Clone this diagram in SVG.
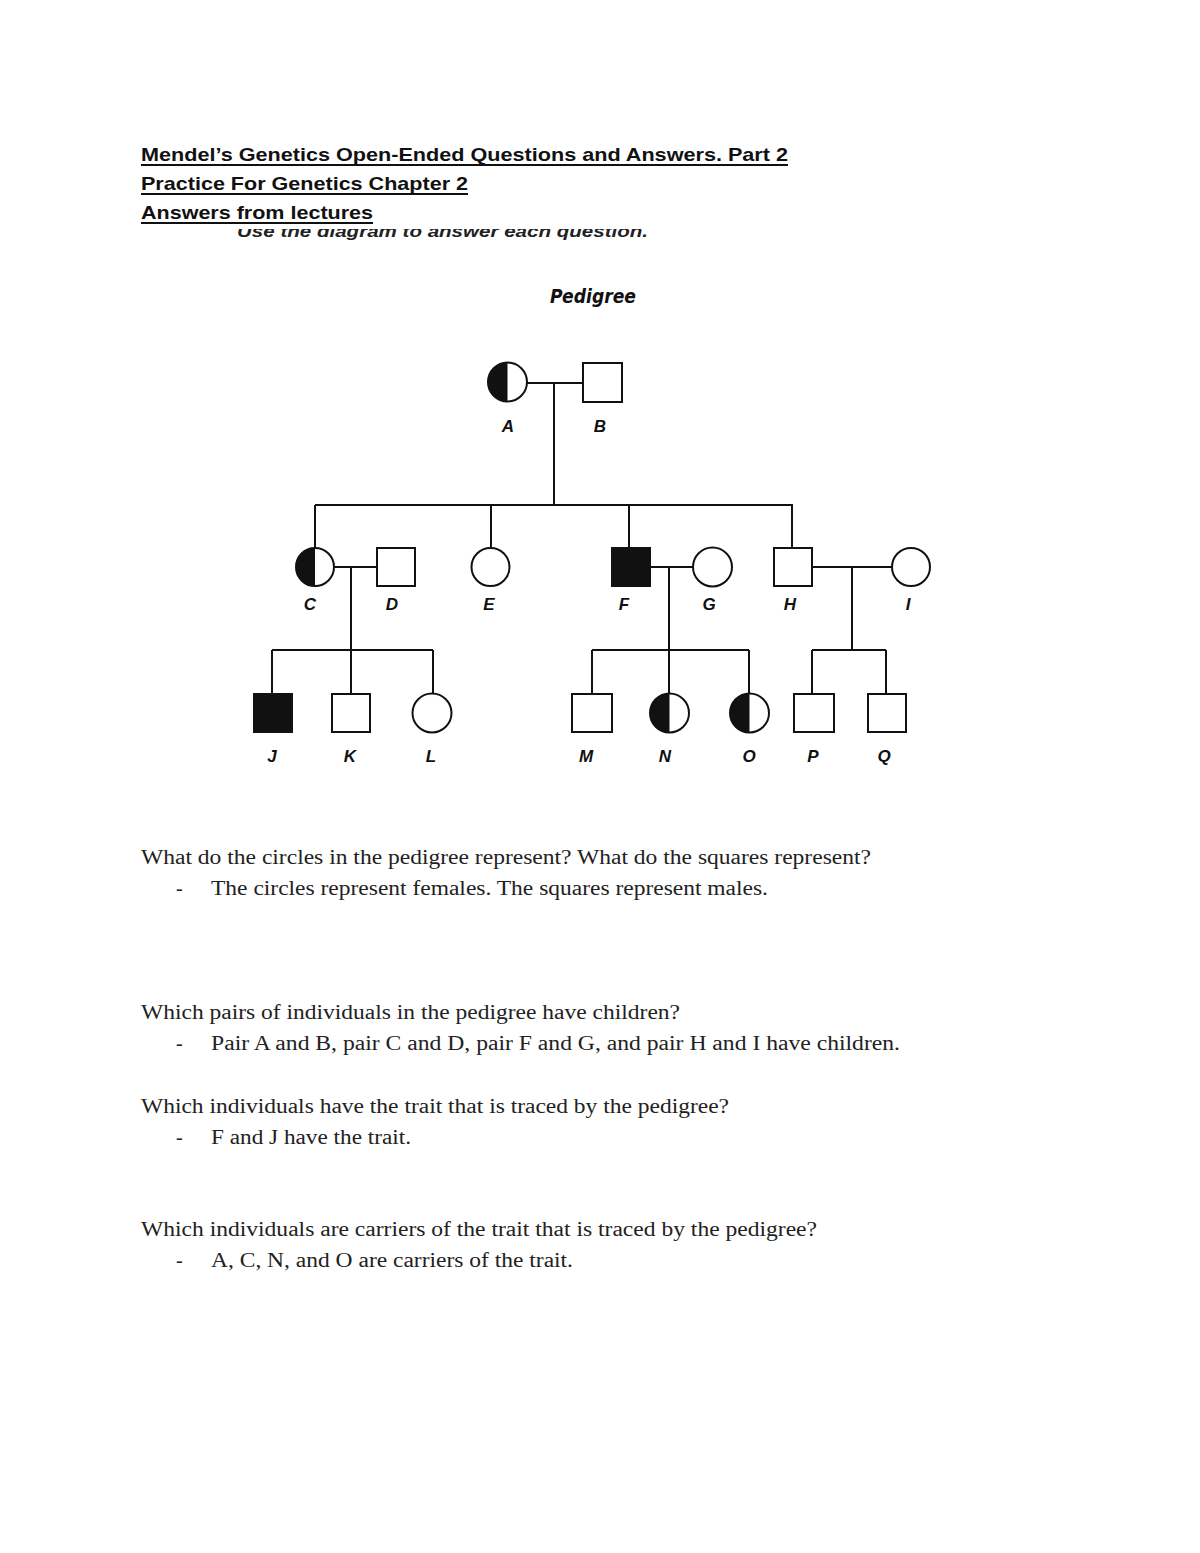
<svg xmlns="http://www.w3.org/2000/svg" width="1200" height="1553" viewBox="0 0 1200 1553">
<style>
.h{font-family:"Liberation Sans",Arial,sans-serif;font-weight:bold;font-size:19px;fill:#111}
.b{font-family:"Liberation Serif","Times New Roman",serif;font-size:20px;fill:#222}
.lb{font-family:"Liberation Sans",Arial,sans-serif;font-style:italic;font-weight:bold;font-size:17px;fill:#111;text-anchor:middle}
.ln{stroke:#111;stroke-width:2;fill:none}
.sh{stroke:#111;stroke-width:2;fill:#fff}
.f{fill:#111}
</style>
<defs>
<clipPath id="cut"><rect x="200" y="229" width="500" height="20"/></clipPath>
</defs>
<rect width="1200" height="1553" fill="#fff"/>
<g id="header">
<text class="h" x="141" y="161" textLength="647" lengthAdjust="spacingAndGlyphs">Mendel’s Genetics Open-Ended Questions and Answers. Part 2</text>
<line x1="141" y1="165" x2="788" y2="165" stroke="#111" stroke-width="2"/>
<text class="h" x="141" y="190" textLength="327" lengthAdjust="spacingAndGlyphs">Practice For Genetics Chapter 2</text>
<line x1="141" y1="194" x2="468" y2="194" stroke="#111" stroke-width="2"/>
<text class="h" x="141" y="219" textLength="232" lengthAdjust="spacingAndGlyphs">Answers from lectures</text>
<line x1="141" y1="223" x2="373" y2="223" stroke="#111" stroke-width="2"/>
<text clip-path="url(#cut)" x="237" y="237" textLength="411" lengthAdjust="spacingAndGlyphs" style="font-family:'Liberation Sans',Arial,sans-serif;font-style:italic;font-weight:bold;font-size:17px;fill:#222">Use the diagram to answer each question.</text>
<text x="550" y="303" textLength="86" lengthAdjust="spacingAndGlyphs" style="font-family:'DejaVu Sans',sans-serif;font-style:italic;font-weight:bold;font-size:19px;fill:#111">Pedigree</text>
</g>
<g id="connectors">
<path class="ln" d="M527 383H583M554 383V505M315 505H793M315 505V548M491 505V548M629 505V548M792 505V548"/>
<path class="ln" d="M334 567H377M351 567V650M272 650H433M272 650V694M351 650V694M433 650V694"/>
<path class="ln" d="M650 567H693M669 567V650M592 650H749M592 650V694M669 650V694M749 650V694"/>
<path class="ln" d="M812 567H892M852 567V650M812 650H886M812 650V694M886 650V694"/>
</g>
<g id="node-A"><circle class="sh" cx="507.5" cy="382" r="19.5"/><path class="f" d="M507.5 362.5A19.5 19.5 0 0 0 507.5 401.5Z"/><text class="lb" x="508" y="432">A</text></g>
<g id="node-B"><rect class="sh" x="583" y="363" width="39" height="39"/><text class="lb" x="600" y="432">B</text></g>
<g id="node-C"><circle class="sh" cx="315" cy="567" r="19"/><path class="f" d="M315 548A19 19 0 0 0 315 586Z"/><text class="lb" x="310" y="610">C</text></g>
<g id="node-D"><rect class="sh" x="377" y="548" width="38" height="38"/><text class="lb" x="392" y="610">D</text></g>
<g id="node-E"><circle class="sh" cx="490.5" cy="567" r="19"/><text class="lb" x="489" y="610">E</text></g>
<g id="node-F"><rect class="sh" x="612" y="548" width="38" height="38" style="fill:#111"/><text class="lb" x="624" y="610">F</text></g>
<g id="node-G"><circle class="sh" cx="712.5" cy="567" r="19.5"/><text class="lb" x="709" y="610">G</text></g>
<g id="node-H"><rect class="sh" x="774" y="548" width="38" height="38"/><text class="lb" x="790" y="610">H</text></g>
<g id="node-I"><circle class="sh" cx="911" cy="567" r="19"/><text class="lb" x="908" y="610">I</text></g>
<g id="node-J"><rect class="sh" x="254" y="694" width="38" height="38" style="fill:#111"/><text class="lb" x="272" y="762">J</text></g>
<g id="node-K"><rect class="sh" x="332" y="694" width="38" height="38"/><text class="lb" x="350" y="762">K</text></g>
<g id="node-L"><circle class="sh" cx="432" cy="713" r="19.5"/><text class="lb" x="431" y="762">L</text></g>
<g id="node-M"><rect class="sh" x="572" y="694" width="40" height="38"/><text class="lb" x="586" y="762">M</text></g>
<g id="node-N"><circle class="sh" cx="669.5" cy="713" r="19.5"/><path class="f" d="M669.5 693.5A19.5 19.5 0 0 0 669.5 732.5Z"/><text class="lb" x="665" y="762">N</text></g>
<g id="node-O"><circle class="sh" cx="749.5" cy="713" r="19.5"/><path class="f" d="M749.5 693.5A19.5 19.5 0 0 0 749.5 732.5Z"/><text class="lb" x="749" y="762">O</text></g>
<g id="node-P"><rect class="sh" x="794" y="694" width="40" height="38"/><text class="lb" x="813" y="762">P</text></g>
<g id="node-Q"><rect class="sh" x="868" y="694" width="38" height="38"/><text class="lb" x="884" y="762">Q</text></g>
<g id="questions">
<text class="b" x="141" y="864" textLength="730" lengthAdjust="spacingAndGlyphs">What do the circles in the pedigree represent? What do the squares represent?</text>
<text class="b" x="176" y="895">-</text>
<text class="b" x="211" y="895" textLength="557" lengthAdjust="spacingAndGlyphs">The circles represent females. The squares represent males.</text>
<text class="b" x="141" y="1019" textLength="539" lengthAdjust="spacingAndGlyphs">Which pairs of individuals in the pedigree have children?</text>
<text class="b" x="176" y="1050">-</text>
<text class="b" x="211" y="1050" textLength="689" lengthAdjust="spacingAndGlyphs">Pair A and B, pair C and D, pair F and G, and pair H and I have children.</text>
<text class="b" x="141" y="1113" textLength="588" lengthAdjust="spacingAndGlyphs">Which individuals have the trait that is traced by the pedigree?</text>
<text class="b" x="176" y="1144">-</text>
<text class="b" x="211" y="1144" textLength="200" lengthAdjust="spacingAndGlyphs">F and J have the trait.</text>
<text class="b" x="141" y="1236" textLength="676" lengthAdjust="spacingAndGlyphs">Which individuals are carriers of the trait that is traced by the pedigree?</text>
<text class="b" x="176" y="1267">-</text>
<text class="b" x="211" y="1267" textLength="362" lengthAdjust="spacingAndGlyphs">A, C, N, and O are carriers of the trait.</text>
</g>
</svg>
